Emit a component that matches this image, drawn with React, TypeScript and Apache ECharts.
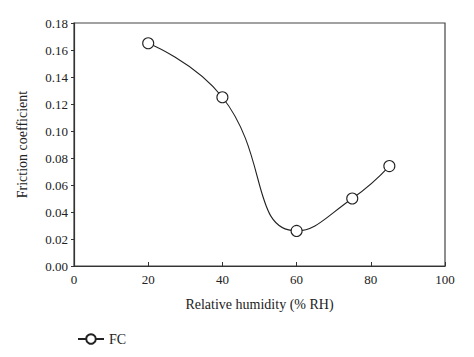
import React, { useEffect, useRef } from "react";
import * as echarts from "echarts";

const humidity = [20, 40, 60, 75, 85];
const friction = [0.165, 0.125, 0.026, 0.05, 0.074];
const seriesName = "FC";
const xTitle = "Relative humidity (% RH)";
const yTitle = "Friction coefficient";

const FONT = "'Liberation Serif', 'DejaVu Serif', serif";
const INK = "#222";

export default function App() {
  const ref = useRef<HTMLDivElement>(null);
  useEffect(() => {
    if (!ref.current) return;
    const chart = echarts.init(ref.current, null, { renderer: "svg" });
    chart.setOption({
      animation: false,
      backgroundColor: "#fff",
      textStyle: { fontFamily: FONT, color: INK },
      grid: {
        left: 74,
        top: 23,
        right: 29,
        bottom: 91,
        show: true,
        borderColor: "#444",
        borderWidth: 1.2,
        backgroundColor: "transparent",
      },
      legend: {
        left: 72,
        top: 327,
        itemWidth: 26,
        itemHeight: 12,
        itemGap: 8,
        textStyle: { fontFamily: FONT, fontSize: 14, color: INK },
        data: [seriesName],
      },
      xAxis: {
        type: "value",
        min: 0,
        max: 100,
        interval: 20,
        name: xTitle,
        nameLocation: "middle",
        nameGap: 31,
        nameTextStyle: { fontFamily: FONT, fontSize: 14, color: INK },
        axisLine: { show: true, lineStyle: { color: "#333", width: 1.2 } },
        axisTick: { show: true, inside: true, length: 4, lineStyle: { color: "#333" } },
        axisLabel: { fontFamily: FONT, fontSize: 13, color: INK, margin: 7 },
        splitLine: { show: false },
      },
      yAxis: {
        type: "value",
        min: 0,
        max: 0.18,
        interval: 0.02,
        name: yTitle,
        nameLocation: "middle",
        nameGap: 45,
        nameTextStyle: { fontFamily: FONT, fontSize: 14, color: INK },
        axisLine: { show: true, lineStyle: { color: "#333", width: 1.2 } },
        axisTick: { show: true, inside: false, length: 3, lineStyle: { color: "#333" } },
        axisLabel: {
          fontFamily: FONT,
          fontSize: 13,
          color: INK,
          margin: 6,
          formatter: (v: number) => v.toFixed(2),
        },
        splitLine: { show: false },
      },
      series: [
        {
          name: seriesName,
          type: "line",
          data: humidity.map((x, i) => [x, friction[i]]),
          smooth: 0.5,
          symbol: "circle",
          symbolSize: 11,
          showAllSymbol: true,
          lineStyle: { color: INK, width: 1.1 },
          itemStyle: { color: "#fff", borderColor: INK, borderWidth: 1.1 },
        },
      ],
    });
    return () => chart.dispose();
  }, []);
  return <div ref={ref} style={{ width: 474, height: 357, margin: -8 }} />;
}
